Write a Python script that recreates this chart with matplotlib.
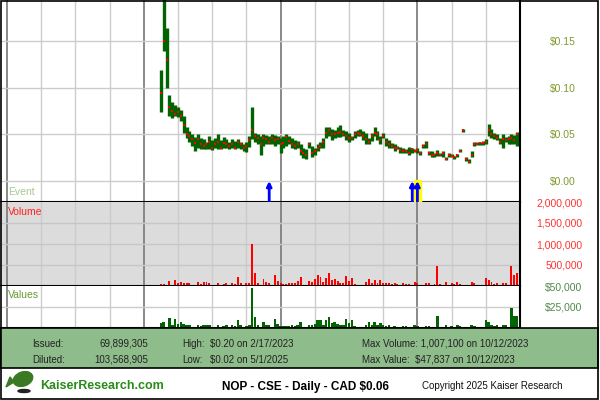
import matplotlib
matplotlib.use("Agg")
import matplotlib.pyplot as plt
import numpy as np
from matplotlib.patches import Rectangle, Ellipse, Polygon

plt.rcParams['font.family'] = ['Liberation Sans', 'DejaVu Sans']

# weekly-ish price bars, first bar mid Feb 2023 (months counted from Jan 2022)
start_month = 13.5
step = 0.25
high = [0.119, 0.196, 0.165, 0.092, 0.085, 0.082, 0.080, 0.076, 0.070, 0.058,
        0.054, 0.050, 0.047, 0.050, 0.046, 0.045, 0.042, 0.048, 0.044, 0.046,
        0.050, 0.044, 0.047, 0.045, 0.042, 0.045, 0.043, 0.045, 0.042, 0.040,
        0.042, 0.048, 0.080, 0.052, 0.050, 0.048, 0.050, 0.049, 0.048, 0.050,
        0.049, 0.048, 0.046, 0.048, 0.050, 0.048, 0.046, 0.044, 0.043, 0.040,
        0.035, 0.034, 0.042, 0.038, 0.036, 0.040, 0.042, 0.046, 0.058, 0.058,
        0.056, 0.055, 0.058, 0.060, 0.055, 0.054, 0.052, 0.048, 0.054, 0.055,
        0.056, 0.054, 0.052, 0.046, 0.052, 0.058, 0.054, 0.048, 0.052, 0.046,
        0.044, 0.041, 0.040, 0.038, 0.037, 0.036, 0.034, 0.037, 0.036, 0.034,
        0.036, 0.032, 0.040, 0.043, 0.032, 0.032, 0.030, 0.033, 0.030, 0.032,
        0.026, 0.030, 0.029, 0.027, 0.029, 0.034, 0.056, 0.026, 0.024, 0.032,
        0.042, 0.042, 0.042, 0.043, 0.045, 0.061, 0.056, 0.052, 0.050, 0.046,
        0.050, 0.047, 0.048, 0.050, 0.049, 0.053]
low = [0.074, 0.140, 0.100, 0.070, 0.068, 0.070, 0.069, 0.064, 0.052, 0.046,
       0.042, 0.038, 0.032, 0.036, 0.034, 0.034, 0.034, 0.034, 0.033, 0.036,
       0.034, 0.034, 0.036, 0.036, 0.034, 0.036, 0.034, 0.036, 0.034, 0.032,
       0.031, 0.037, 0.045, 0.042, 0.040, 0.028, 0.038, 0.040, 0.040, 0.040,
       0.038, 0.040, 0.030, 0.035, 0.038, 0.040, 0.036, 0.034, 0.036, 0.028,
       0.025, 0.024, 0.035, 0.026, 0.028, 0.032, 0.035, 0.036, 0.046, 0.048,
       0.044, 0.046, 0.047, 0.047, 0.048, 0.044, 0.042, 0.044, 0.046, 0.048,
       0.048, 0.044, 0.040, 0.040, 0.043, 0.048, 0.044, 0.040, 0.046, 0.038,
       0.036, 0.036, 0.032, 0.034, 0.030, 0.030, 0.030, 0.028, 0.030, 0.031,
       0.030, 0.028, 0.035, 0.036, 0.028, 0.026, 0.026, 0.027, 0.027, 0.026,
       0.023, 0.026, 0.026, 0.024, 0.026, 0.031, 0.053, 0.022, 0.019, 0.026,
       0.038, 0.039, 0.039, 0.039, 0.040, 0.048, 0.046, 0.045, 0.044, 0.040,
       0.036, 0.042, 0.040, 0.040, 0.040, 0.038]
close = [0.095, 0.150, 0.130, 0.080, 0.075, 0.072, 0.074, 0.070, 0.060, 0.050,
         0.048, 0.045, 0.041, 0.045, 0.040, 0.038, 0.040, 0.042, 0.036, 0.040,
         0.042, 0.036, 0.041, 0.040, 0.038, 0.040, 0.036, 0.042, 0.040, 0.036,
         0.038, 0.044, 0.055, 0.048, 0.046, 0.040, 0.046, 0.045, 0.042, 0.046,
         0.044, 0.045, 0.040, 0.041, 0.047, 0.043, 0.040, 0.038, 0.040, 0.032,
         0.030, 0.028, 0.040, 0.030, 0.032, 0.036, 0.038, 0.042, 0.052, 0.055,
         0.050, 0.050, 0.052, 0.053, 0.050, 0.048, 0.046, 0.046, 0.050, 0.052,
         0.050, 0.048, 0.045, 0.042, 0.048, 0.052, 0.050, 0.044, 0.048, 0.042,
         0.040, 0.038, 0.035, 0.036, 0.033, 0.032, 0.032, 0.030, 0.034, 0.032,
         0.033, 0.030, 0.038, 0.040, 0.030, 0.028, 0.028, 0.030, 0.028, 0.030,
         0.024, 0.028, 0.027, 0.026, 0.028, 0.032, 0.055, 0.024, 0.020, 0.028,
         0.040, 0.040, 0.041, 0.041, 0.042, 0.055, 0.050, 0.048, 0.046, 0.042,
         0.045, 0.044, 0.045, 0.046, 0.044, 0.050]
# volume in shares, value in CAD
volume = [50000, 40000, 0, 120000, 30000, 140000, 60000, 90000, 70000, 80000,
          60000, 0, 20000, 100000, 40000, 90000, 100000, 60000, 0, 0,
          60000, 0, 40000, 70000, 0, 70000, 40000, 220000, 80000, 20000,
          60000, 60000, 1007100, 300000, 80000, 20000, 160000, 100000, 60000, 30000,
          260000, 120000, 60000, 50000, 40000, 60000, 80000, 60000, 120000, 210000,
          30000, 20000, 120000, 90000, 160000, 260000, 220000, 100000, 200000, 300000,
          140000, 160000, 120000, 80000, 60000, 240000, 120000, 200000, 40000, 0,
          0, 20000, 100000, 170000, 80000, 150000, 60000, 150000, 80000, 60000,
          80000, 40000, 60000, 40000, 0, 60000, 50000, 40000, 0, 90000,
          60000, 0, 0, 60000, 60000, 0, 40000, 480000, 40000, 0,
          90000, 0, 60000, 40000, 90000, 50000, 20000, 0, 0, 90000,
          60000, 0, 0, 0, 200000, 150000, 90000, 40000, 80000, 0,
          60000, 60000, 0, 480000, 260000, 300000]
values = [6000, 7000, 0, 12000, 3000, 11000, 5000, 7000, 5000, 4000,
          3000, 0, 1000, 4000, 2000, 4000, 4000, 3000, 0, 0,
          3000, 0, 2000, 3000, 0, 3000, 2000, 9000, 3000, 1000,
          2000, 3000, 47837, 13000, 4000, 1000, 7000, 4000, 3000, 1000,
          11000, 5000, 2000, 2000, 2000, 2000, 3000, 2000, 4000, 7000,
          1000, 1000, 4000, 3000, 5000, 10000, 9000, 4000, 9000, 13000,
          6000, 7000, 5000, 4000, 3000, 11000, 6000, 9000, 2000, 0,
          0, 1000, 4000, 7000, 4000, 7000, 3000, 6000, 3000, 2000,
          3000, 1000, 2000, 1000, 0, 2000, 2000, 1000, 0, 3000,
          2000, 0, 0, 2000, 2000, 0, 1000, 14000, 1000, 0,
          3000, 0, 2000, 1000, 3000, 2000, 1000, 0, 0, 3000,
          2000, 0, 0, 0, 9000, 7000, 4000, 2000, 3000, 0,
          3000, 3000, 0, 24000, 14000, 14000]

event_months = [23.0, 35.55, 36.0]
highlight_month = 36.0

price_ticks = [0.0, 0.05, 0.10, 0.15, 0.20]
price_labels = ['$0.00', '$0.05', '$0.10', '$0.15', '$0.20']
vol_ticks = [500000, 1000000, 1500000, 2000000]
vol_labels = ['500,000', '1,000,000', '1,500,000', '2,000,000']
val_ticks = [25000, 50000]
val_labels = ['$25,000', '$50,000']

info_left = [('Issued:', '69,899,305'), ('Diluted:', '103,568,905')]
info_mid = [('High:', '$0.20 on 2/17/2023'), ('Low:', '$0.02 on 5/1/2025')]
info_right = ['Max Volume: 1,007,100 on 10/12/2023', 'Max Value:  $47,837 on 10/12/2023']
title = 'NOP - CSE - Daily - CAD $0.06'

x = start_month + step * np.arange(len(high))
green = '#006400'

fig = plt.figure(figsize=(6, 4), dpi=100)
W, H = 600.0, 400.0

def box(top, bottom):
    return [0, 1 - bottom / H, 520 / W, (bottom - top) / H]

ax = fig.add_axes(box(0, 202))
axv = fig.add_axes(box(202, 286))
axd = fig.add_axes(box(286, 328))

for a in (ax, axv, axd):
    a.set_xlim(-0.614, 45)
    a.set_xticks([])
    for m in range(0, 46, 3):
        c, lw = ('#808080', 1.3) if m % 12 == 0 else ('#cccccc', 1.0)
        a.axvline(m, color=c, lw=lw, zorder=0)
    a.spines['top'].set_visible(False)
    a.spines['left'].set_visible(False)
    a.spines['right'].set_color('black')
    a.spines['bottom'].set_color('black')
    a.spines['bottom'].set_linewidth(1.5)
    a.spines['right'].set_linewidth(1.5)
    a.yaxis.tick_right()
    a.tick_params(axis='y', length=0)

# price panel
ax.set_ylim(-0.0226, 0.1946)
for t in price_ticks[:4]:
    ax.axhline(t, color='#cccccc', lw=1.0, zorder=0)
ax.vlines(x, low, high, color=green, lw=2.4, zorder=2)
ax.scatter(x, close, marker='s', s=1.5, color='red', zorder=3, linewidths=0)
ax.set_yticks(price_ticks[:4])
ax.set_yticklabels(price_labels[:4], color='#7f9a30', fontsize=7.5)
ax.tick_params(axis='y', pad=40)
for lbl in ax.get_yticklabels():
    lbl.set_ha('right')
ax.text(1.0 + 55 / 520, price_ticks[4], price_labels[4], transform=ax.get_yaxis_transform(),
        ha='right', va='center', color='#7f9a30', fontsize=7.5, clip_on=False)
ax.text(8 / 520, -0.0115, 'Event', color='#a8c890', fontsize=7.5, va='center',
        transform=ax.get_yaxis_transform())
ax.add_patch(Rectangle((highlight_month - 0.3, -0.0226), 0.6, 0.0235,
                       color='yellow', zorder=3))
for e in event_months:
    ax.annotate('', xy=(e, 0.0), xytext=(e, -0.0222),
                arrowprops=dict(arrowstyle='-|>', mutation_scale=7, shrinkA=0, shrinkB=0,
                                color='#0000ff', lw=2.0), zorder=4)

# volume panel
axv.set_facecolor('#dcdcdc')
axv.set_ylim(0, 2000000)
for t in vol_ticks[:3]:
    axv.axhline(t, color='#c6c6c6', lw=1.0, zorder=0)
axv.bar(x, volume, width=0.17, color='red', zorder=2)
axv.set_yticks(vol_ticks)
axv.set_yticklabels(vol_labels, color='#ff3333', fontsize=7.5)
axv.tick_params(axis='y', pad=45)
for lbl in axv.get_yticklabels():
    lbl.set_ha('right')
axv.text(8 / 520, 0.88, 'Volume', color='#ff2020', fontsize=7.5, va='center',
         transform=axv.transAxes)

# values panel
axd.set_ylim(0, 50000)
axd.axhline(val_ticks[0], color='#cccccc', lw=1.0, zorder=0)
axd.bar(x, values, width=0.22, color=green, zorder=2)
axd.set_yticks(val_ticks)
axd.set_yticklabels(val_labels, color='#4f8a4a', fontsize=7.5)
axd.tick_params(axis='y', pad=45)
for lbl in axd.get_yticklabels():
    lbl.set_ha('right')
axd.text(8 / 520, 0.78, 'Values', color='#6a9a30', fontsize=7.5, va='center',
         transform=axd.transAxes)

# info box
fig.patches.append(Rectangle((0, 32 / H), 598 / W, 40 / H, transform=fig.transFigure,
                             facecolor='#8fbc8b', edgecolor='black', lw=1.2))
rows = [1 - 344 / H, 1 - 360 / H]
for (lab, val), (lab2, val2), txt, yy in zip(info_left, info_mid, info_right, rows):
    fig.text(32 / W, yy, lab, fontsize=7, color='#222222', va='center')
    fig.text(148 / W, yy, val, fontsize=7, color='#222222', va='center', ha='right')
    fig.text(182 / W, yy, lab2, fontsize=7, color='#222222', va='center')
    fig.text(210 / W, yy, val2, fontsize=7, color='#222222', va='center')
    fig.text(362 / W, yy, txt, fontsize=7, color='#222222', va='center')

# footer
fig.patches.append(Rectangle((0.5 / W, 1 / H), 597.5 / W, 398 / H, transform=fig.transFigure,
                             fill=False, edgecolor='black', lw=1.2))
logo = fig.add_axes([4 / W, 3 / H, 32 / W, 28 / H])
logo.set_xlim(0, 32)
logo.set_ylim(0, 28)
logo.axis('off')
logo.add_patch(Ellipse((19, 18), 20, 14, angle=20, color='#3a7a22'))
logo.add_patch(Polygon([[2, 10], [10, 15], [6, 20]], color='#3a7a22'))
logo.add_patch(Ellipse((20, 6), 12, 3, color='#222222'))
fig.text(40 / W, 1 - 386 / H, 'KaiserResearch.com', fontsize=9, fontweight='bold',
         color='#2a8a1a', va='center')
fig.text(222 / W, 1 - 387 / H, title, fontsize=8.5, fontweight='bold', color='black',
         va='center')
fig.text(422 / W, 1 - 386 / H, 'Copyright 2025 Kaiser Research', fontsize=7,
         color='#111111', va='center')

fig.savefig('out.png', dpi=100)
